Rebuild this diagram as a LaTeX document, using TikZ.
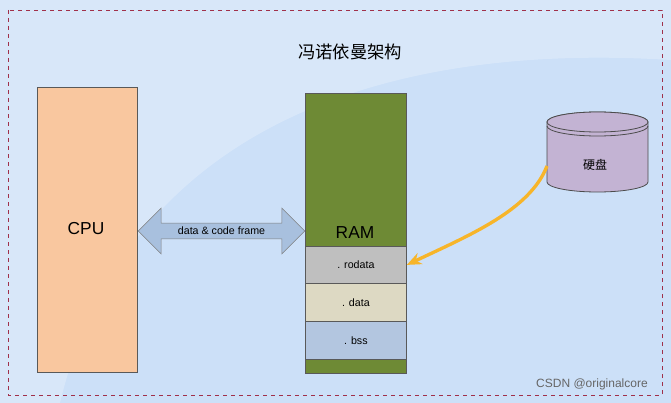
\documentclass[tikz,border=0pt]{standalone}
\usepackage{fontspec}
\setmainfont{Liberation Sans}
\newfontfamily\cjk{Noto Sans CJK SC}
\usetikzlibrary{shapes.arrows,arrows.meta}
\definecolor{bg}{HTML}{CCE0F8}
\definecolor{cpuc}{HTML}{F9C79F}
\definecolor{ramg}{HTML}{6E8A35}
\definecolor{rod}{HTML}{BFBFBF}
\definecolor{dat}{HTML}{DDD9C3}
\definecolor{bss}{HTML}{B3C6E0}
\definecolor{arr}{HTML}{A8C0DE}
\definecolor{disk}{HTML}{C3B3D3}
\definecolor{frm}{HTML}{A0304A}
\definecolor{orng}{HTML}{F7B52A}
\tikzset{seg/.style={draw=gray!70!black,line width=0.6pt,inner sep=0pt},
lbl/.style={font=\fontsize{8}{9}\selectfont}}
\begin{document}
\begin{tikzpicture}[x=0.75pt,y=-0.75pt]
\fill[bg] (0,0) rectangle (671,403);
\fill[white,opacity=0.25] (60,403) .. controls (120,150) and (350,40) .. (671,60) -- (671,0) -- (0,0) -- (0,403) -- cycle;
\draw[frm,dashed,line width=0.6pt] (8,10) rectangle (662,395);
\node[font=\cjk\fontsize{13}{15}\selectfont] (title) at (350,52) {冯诺依曼架构};
\node[seg,fill=cpuc,minimum width=75pt,minimum height=213.75pt,anchor=north west] (cpu) at (37,87) {};
\node[font=\fontsize{13}{15}\selectfont] (cpul) at (86,229) {CPU};
\node[seg,fill=ramg,minimum width=75.75pt,minimum height=210pt,anchor=north west] (ram) at (305,93) {};
\node[font=\fontsize{13}{15}\selectfont] (raml) at (355,233) {RAM};
\node[seg,fill=rod,minimum width=75.75pt,minimum height=27.75pt,anchor=north west,lbl] (rod) at (305,246) {. rodata};
\node[seg,fill=dat,minimum width=75.75pt,minimum height=28.5pt,anchor=north west,lbl] (dat) at (305,283) {. data};
\node[seg,fill=bss,minimum width=75.75pt,minimum height=28.5pt,anchor=north west,lbl] (bss) at (305,321) {. bss};
\node[double arrow,draw=gray,fill=arr,minimum width=34.5pt,double arrow head extend=8pt,minimum height=125pt,inner sep=1pt,lbl] (bus) at (221.5,231) {data \& code frame};
% disk
\fill[disk,draw=gray!60!black,line width=0.6pt] (547,122) -- (547,182) arc[start angle=180,end angle=0,x radius=50.5,y radius=10] -- (648,122) arc[start angle=0,end angle=-180,x radius=50.5,y radius=10] -- cycle;
\draw[gray!60!black,line width=0.6pt,fill=disk] (597.5,122) ellipse[x radius=50.5,y radius=10];
\draw[gray!60!black,line width=0.6pt] (547,126) arc[start angle=180,end angle=0,x radius=50.5,y radius=10];
\node[font=\cjk\fontsize{9}{10}\selectfont] (disk) at (595,165) {硬盘};
\coordinate (ds) at (547,166);
\draw[orng,line width=2.5pt,-{Stealth[length=11pt,width=9pt]}] (ds) .. controls (530,210) and (470,235) .. (rod.east);
\node[gray!80!black,font=\fontsize{9}{10}\selectfont] (wm) at (592,384) {CSDN @originalcore};
\end{tikzpicture}
\end{document}
